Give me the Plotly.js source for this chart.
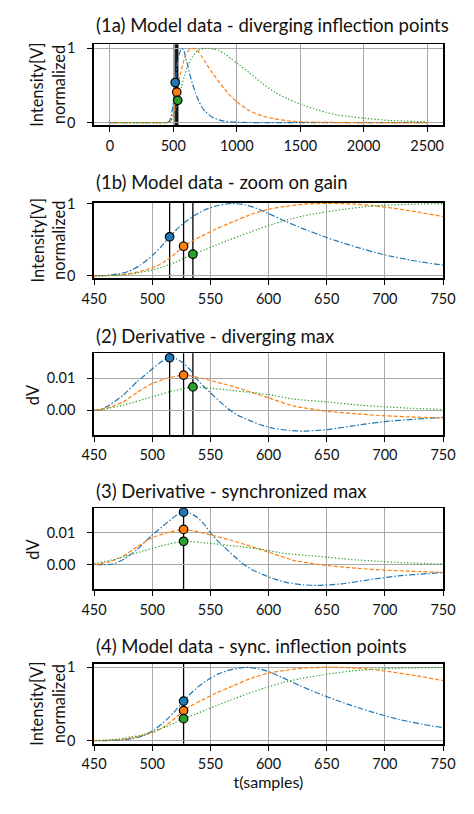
<!DOCTYPE html>
<html>
<head>
<meta charset="utf-8">
<script src="https://cdn.plot.ly/plotly-3.0.1.min.js"></script>
<style>
  html, body { margin: 0; padding: 0; background: #fff; }
  #chart { width: 474px; height: 814px; }
</style>
</head>
<body>
<div id="chart"></div>
<script>
// Three model signals: fast (blue), medium (orange), slow (green)
const seriesNames = ['fast', 'medium', 'slow'];
const colors = ['#1f77b4', '#ff7f0e', '#2ca02c'];

// Normalized intensity, sample index -> value
const tFast = [0, 400, 440, 450, 460, 470, 480, 490, 500, 508, 515, 521, 527, 535, 545, 555, 568, 580, 590, 600, 615, 630, 650, 675, 700, 725, 750, 800, 850, 900, 1000, 1200, 2500];
const vFast = [0, 0, 0, 0.002, 0.007, 0.025, 0.065, 0.15, 0.28, 0.41, 0.54, 0.64, 0.73, 0.82, 0.91, 0.965, 1.0, 0.98, 0.93, 0.86, 0.75, 0.65, 0.53, 0.40, 0.29, 0.21, 0.15, 0.08, 0.04, 0.02, 0.005, 0, 0];

const tMedium = [0, 430, 450, 460, 470, 480, 490, 500, 510, 520, 527, 535, 545, 555, 570, 585, 600, 615, 630, 650, 670, 690, 700, 725, 750, 800, 850, 900, 950, 1000, 1100, 1200, 1300, 1400, 1500, 1700, 2000, 2500];
const vMedium = [0, 0, 0.001, 0.004, 0.012, 0.03, 0.065, 0.11, 0.19, 0.31, 0.41, 0.49, 0.57, 0.65, 0.75, 0.85, 0.92, 0.96, 0.99, 1.0, 0.995, 0.97, 0.95, 0.89, 0.82, 0.69, 0.57, 0.46, 0.36, 0.28, 0.16, 0.09, 0.05, 0.025, 0.012, 0.003, 0, 0];

const tSlow = [0, 440, 450, 460, 470, 480, 490, 500, 510, 520, 527, 535, 545, 555, 565, 575, 590, 605, 620, 635, 650, 665, 680, 700, 725, 750, 780, 820, 860, 900, 950, 1000, 1100, 1200, 1300, 1400, 1500, 1600, 1700, 1800, 1900, 2000, 2200, 2500];
const vSlow = [0, 0, 0.001, 0.003, 0.01, 0.025, 0.05, 0.08, 0.13, 0.19, 0.24, 0.30, 0.36, 0.425, 0.49, 0.55, 0.64, 0.72, 0.79, 0.845, 0.885, 0.92, 0.95, 0.975, 0.99, 0.998, 1.0, 0.99, 0.97, 0.93, 0.87, 0.80, 0.67, 0.53, 0.41, 0.32, 0.25, 0.19, 0.14, 0.10, 0.08, 0.06, 0.03, 0.01];

// Derivative dV
const dtFast = [430, 450, 455, 464, 475, 487, 500, 508, 515, 521, 527, 533, 539, 545, 550, 558, 567, 575, 584, 594, 604, 618, 630, 651, 679, 700, 725, 750, 770];
const dvFast = [0, 0, 0.0002, 0.0018, 0.0047, 0.0089, 0.0129, 0.0152, 0.0164, 0.0160, 0.0147, 0.0125, 0.0095, 0.0072, 0.0055, 0.0028, 0.0, -0.0018, -0.0032, -0.0046, -0.0056, -0.0063, -0.0065, -0.0060, -0.0045, -0.0035, -0.0028, -0.0022, -0.0019];

const dtMedium = [430, 450, 455, 464, 475, 487, 500, 515, 527, 539, 550, 567, 584, 600, 622, 651, 679, 700, 725, 750, 770];
const dvMedium = [0, 0, 0.0002, 0.001, 0.0026, 0.0056, 0.0084, 0.0102, 0.0110, 0.0103, 0.0093, 0.0077, 0.0058, 0.0039, 0.0013, -0.0003, -0.0012, -0.0017, -0.0021, -0.0024, -0.0025];

const dtSlow = [430, 450, 455, 475, 500, 515, 535, 550, 567, 584, 600, 622, 651, 679, 700, 725, 750, 760, 780];
const dvSlow = [0, 0, 0.0001, 0.0016, 0.0042, 0.0058, 0.0073, 0.0069, 0.0063, 0.0056, 0.0049, 0.0035, 0.0026, 0.0016, 0.0011, 0.0006, 0.0003, 0.0002, 0.0];

// Inflection points (sample, normalized value, derivative max)
const inflT = [515, 527, 535];
const inflV = [0.54, 0.41, 0.30];
const peakD = [0.0164, 0.0110, 0.0073];
const syncT = 527;

const panelTitles = [
  '(1a) Model data - diverging inflection points',
  '(1b) Model data - zoom on gain',
  '(2) Derivative - diverging max',
  '(3) Derivative - synchronized max',
  '(4) Model data - sync. inflection points'
];

const intensT = [tFast, tMedium, tSlow];
const intensV = [vFast, vMedium, vSlow];
const derivT = [dtFast, dtMedium, dtSlow];
const derivV = [dvFast, dvMedium, dvSlow];
const dashes = ['6px,2px,1.5px,2px', '4px,2px', '1.3px,2px'];

const FONT = 'Lato, "Open Sans", sans-serif';
const W = 474, H = 814;

// pixel geometry of each panel (top, bottom)
const panels = [
  { top: 44.3, bottom: 125.3 },
  { top: 202.7, bottom: 278.3 },
  { top: 353.3, bottom: 435.0 },
  { top: 508.3, bottom: 589.3 },
  { top: 664.0, bottom: 743.7 }
];
const titleY = [24.7, 182.3, 335.7, 490.7, 645.7];

const traces = [];
const shapes = [];
const annotations = [];

function lineTrace(ax, x, y, i) {
  return {
    x: x, y: y, xaxis: 'x' + ax, yaxis: 'y' + ax,
    type: 'scatter', mode: 'lines', name: seriesNames[i],
    line: { color: colors[i], width: 1.2, dash: dashes[i], shape: 'spline', smoothing: 0.5 },
    hoverinfo: 'skip', showlegend: false
  };
}
function markerTrace(ax, x, y, i) {
  return {
    x: [x], y: [y], xaxis: 'x' + ax, yaxis: 'y' + ax,
    type: 'scatter', mode: 'markers', name: seriesNames[i] + ' inflection',
    marker: { color: colors[i], size: 8.5, line: { color: '#000', width: 1.2 } },
    hoverinfo: 'skip', showlegend: false
  };
}
function vline(ax, x) {
  shapes.push({
    type: 'line', xref: 'x' + ax, yref: 'y' + ax + ' domain',
    x0: x, x1: x, y0: 0, y1: 1, layer: 'below',
    line: { color: '#000', width: 1.3 }
  });
}

// (1a) and (1b): raw model curves with diverging inflection points
[1, 2].forEach(function (ax) {
  for (let i = 0; i < 3; i++) traces.push(lineTrace(ax, intensT[i], intensV[i], i));
  for (let i = 0; i < 3; i++) { vline(ax, inflT[i]); traces.push(markerTrace(ax, inflT[i], inflV[i], i)); }
});

// (2) derivatives, diverging max
for (let i = 0; i < 3; i++) traces.push(lineTrace(3, derivT[i], derivV[i], i));
for (let i = 0; i < 3; i++) { vline(3, inflT[i]); traces.push(markerTrace(3, inflT[i], peakD[i], i)); }

// (3) derivatives shifted so all maxima sit at syncT
for (let i = 0; i < 3; i++) {
  const off = syncT - inflT[i];
  traces.push(lineTrace(4, derivT[i].map(function (t) { return t + off; }), derivV[i], i));
}
vline(4, syncT);
for (let i = 0; i < 3; i++) traces.push(markerTrace(4, syncT, peakD[i], i));

// (4) model curves shifted so all inflection points sit at syncT
for (let i = 0; i < 3; i++) {
  const off = syncT - inflT[i];
  traces.push(lineTrace(5, intensT[i].map(function (t) { return t + off; }), intensV[i], i));
}
vline(5, syncT);
for (let i = 0; i < 3; i++) traces.push(markerTrace(5, syncT, inflV[i], i));

const axisCommon = {
  showline: true, mirror: true, linecolor: '#000', linewidth: 1.8,
  showgrid: true, gridcolor: '#a8a8a8', gridwidth: 1,
  zeroline: false, ticks: 'outside', ticklen: 5, tickwidth: 1, tickcolor: '#000',
  tickfont: { family: FONT, size: 14.5, color: '#111' }, fixedrange: true
};

const layout = {
  width: W, height: H,
  margin: { l: 94, r: 31, t: 0, b: 0 },
  paper_bgcolor: '#fff', plot_bgcolor: '#fff',
  showlegend: false,
  font: { family: FONT, color: '#111' },
  shapes: shapes, annotations: annotations
};

const xRanges = [[-125, 2625], [450, 750], [450, 750], [450, 750], [450, 750]];
const yRanges = [[-0.036, 1.054], [-0.032, 1.01], [-0.0077, 0.0178], [-0.0077, 0.0176], [-0.041, 1.045]];
const yTicks = [[0, 1], [0, 1], [0, 0.01], [0, 0.01], [0, 1]];
const yTickText = [['0', '1'], ['0', '1'], ['0.00', '0.01'], ['0.00', '0.01'], ['0', '1']];
const yLabels = ['Intensity[V]<br>normalized', 'Intensity[V]<br>normalized', 'dV', 'dV', 'Intensity[V]<br>normalized'];

panels.forEach(function (p, k) {
  const n = k + 1;
  const dom = [1 - p.bottom / H, 1 - p.top / H];
  layout['xaxis' + (n === 1 ? '' : n)] = Object.assign({}, axisCommon, {
    domain: [0, 1], anchor: 'y' + n, range: xRanges[k],
    tick0: k === 0 ? 0 : 450, dtick: k === 0 ? 500 : 50, ticklabelstandoff: 1
  });
  layout['yaxis' + (n === 1 ? '' : n)] = Object.assign({}, axisCommon, {
    domain: dom, anchor: 'x' + n, range: yRanges[k],
    tickmode: 'array', tickvals: yTicks[k], ticktext: yTickText[k], ticklabelstandoff: 9
  });
  annotations.push({
    xref: 'paper', yref: 'paper', x: 0, y: 1 - titleY[k] / H,
    xanchor: 'left', yanchor: 'middle', showarrow: false,
    text: panelTitles[k], font: { family: FONT, size: 18.5, color: '#111' }
  });
  annotations.push({
    xref: 'paper', yref: 'paper',
    x: (k === 2 || k === 3 ? 33 - 94 : 48 - 94) / (W - 94 - 31),
    y: 1 - (p.top + p.bottom) / 2 / H,
    xanchor: 'center', yanchor: 'middle', showarrow: false, textangle: -90,
    text: yLabels[k], font: { family: FONT, size: 16.5, color: '#111' }
  });
});

layout.xaxis5.title = { text: 't(samples)', font: { family: FONT, size: 16, color: '#111' }, standoff: 6 };

Plotly.newPlot('chart', traces, layout, { staticPlot: true, displayModeBar: false });
</script>
</body>
</html>
